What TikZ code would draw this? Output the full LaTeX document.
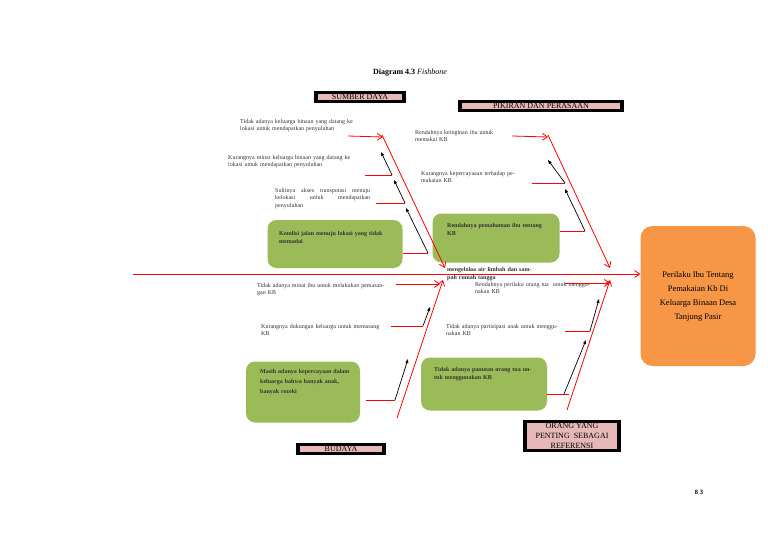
\documentclass[tikz,border=0pt]{standalone}
\usepackage{fontspec}
\setmainfont{Liberation Serif}
\usetikzlibrary{arrows.meta}
\definecolor{gr}{HTML}{9BBB59}
\definecolor{pk}{HTML}{E6B9B8}
\definecolor{org}{HTML}{F79646}
\begin{document}
\begin{tikzpicture}[x=1pt,y=-1pt,
 t/.style={font=\fontsize{6}{7.5}\selectfont,align=left,inner sep=0,anchor=north west,text=black!80},
 tb/.style={t,font=\fontsize{6}{8}\bfseries\selectfont},
 gbox/.style={fill=gr,rounded corners=9pt,draw=none},
 rl/.style={red,line width=0.8pt},
 ra/.style={rl,-{Straight Barb[length=5pt,width=7pt]}},
 ba/.style={black,line width=0.7pt,-{Triangle[length=4pt,width=3pt]}},
 cat/.style={draw=black,line width=3.5pt,fill=pk,font=\fontsize{8}{9.5}\selectfont,align=center,inner sep=2pt,
   drop shadow={shadow xshift=1.5pt,shadow yshift=-1.5pt,fill=black!30}}]
\useasboundingbox (0,0) rectangle (768,543);
\node (title) at (410,73) {\fontsize{8}{9}\selectfont\bfseries Diagram 4.3 \mdseries\itshape Fishbone};
% category boxes
\node[draw=black,line width=3.5pt,fill=pk,font=\fontsize{8}{9.5}\selectfont,inner sep=2pt,minimum width=88pt] (sd) at (360,97) {SUMBER DAYA};
\node[draw=black,line width=3.5pt,fill=pk,font=\fontsize{8}{9.5}\selectfont,inner sep=2pt,minimum width=162pt] (pp) at (541,106) {PIKIRAN DAN PERASAAN};
\node[draw=black,line width=3.5pt,fill=pk,font=\fontsize{8}{9.5}\selectfont,inner sep=2pt,minimum width=86pt] (bd) at (341,449) {BUDAYA};
\node[draw=black,line width=3.5pt,fill=pk,font=\fontsize{8}{10}\selectfont,align=center,inner sep=2pt,minimum width=94pt] (or) at (572,436) {ORANG YANG\\PENTING \ SEBAGAI\\REFERENSI};
% effect
\node[fill=org,rounded corners=12pt,minimum width=115pt,minimum height=140pt,align=center,font=\fontsize{8.5}{14}\selectfont] (eff) at (698,296) {Perilaku Ibu Tentang\\Pemakaian Kb Di\\Keluarga Binaan Desa\\Tanjung Pasir};
% spine
\coordinate (s0) at (133,274);
\draw[ra] (s0) -- (eff.west |- 0,274);
% green boxes
\node[gbox,minimum width=135pt,minimum height=48pt] (g1) at (335,244) {};
\node[tb,text width=112pt] (g1t) at (279,231) {Kondisi jalan menuju lokasi yang tidak memadai};
\node[gbox,minimum width=127pt,minimum height=49pt] (g2) at (496,238) {};
\node[tb,text width=100pt] (g2t) at (447,223) {Rendahnya pemahaman ibu tentang KB};
\node[gbox,minimum width=114pt,minimum height=61pt] (g3) at (303,392) {};
\node[tb,text width=90pt,font=\fontsize{6}{10}\bfseries\selectfont] (g3t) at (260,369) {Masih adanya kepercayaan dalam keluarga bahwa banyak anak, banyak rezeki};
\node[gbox,minimum width=126pt,minimum height=53pt] (g4) at (484,384) {};
\node[tb,text width=100pt] (g4t) at (434,367) {Tidak adanya panutan orang tua untuk menggunakan KB};
% bones
\coordinate (b1s) at (382,135); \coordinate (b1e) at (445,268);
\coordinate (b2s) at (548,135); \coordinate (b2e) at (610,268);
\coordinate (b3s) at (397,418); \coordinate (b3e) at (443,280);
\coordinate (b4s) at (567,410); \coordinate (b4e) at (610,280);
\draw[ra] (b1s) -- (b1e);
\draw[ra] (b2s) -- (b2e);
\draw[ra] (b3s) -- (b3e);
\draw[ra] (b4s) -- (b4e);
% sumber daya causes
\node[t,text width=120pt] (c11) at (240,119) {Tidak adanya keluarga binaan yang datang ke lokasi untuk mendapatkan penyuluhan};
\coordinate (h11) at (348,136); \coordinate (e11) at (383,137);
\draw[ra] (h11) -- (e11);
\node[t,text width=125pt] (c12) at (228,155) {Kurangnya minat keluarga binaan yang datang ke lokasi untuk mendapatkan penyuluhan};
\coordinate (h12) at (365,175); \coordinate (k12) at (392,175); \coordinate (a12) at (381,152);
\draw[rl] (h12) -- (k12); \draw[ba] (k12) -- (a12);
\node[t,text width=95pt,align=justify] (c13) at (275,188) {Sulitnya akses transpotasi menuju kelokasi untuk mendapatkan \ penyuluhan};
\coordinate (h13) at (376,203); \coordinate (k13) at (405,203); \coordinate (a13) at (394,180);
\draw[rl] (h13) -- (k13); \draw[ba] (k13) -- (a13);
\coordinate (k14) at (428,253); \coordinate (a14) at (406,208);
\draw[rl] (g1.east |- k14) -- (k14); \draw[ba] (k14) -- (a14);
% pikiran causes
\node[t,text width=100pt] (c21) at (415,130) {Rendahnya keinginan ibu untuk memakai KB};
\coordinate (h21) at (512,136); \coordinate (e21) at (548,137);
\draw[ra] (h21) -- (e21);
\node[t,text width=100pt] (c22) at (421,171) {Kurangnya kepercayaaan terhadap pemakaian KB};
\coordinate (h22) at (532,183); \coordinate (k22) at (565,183); \coordinate (a22) at (548,160);
\draw[rl] (h22) -- (k22); \draw[ba] (k22) -- (a22);
\coordinate (k23) at (585,231); \coordinate (a23) at (565,189);
\draw[rl] (g2.east |- k23) -- (k23); \draw[ba] (k23) -- (a23);
% budaya causes
\node[t,text width=130pt] (c31) at (257,283) {Tidak adanya minat ibu untuk melakukan pemasangan KB};
\coordinate (h31) at (396,284); \coordinate (e31) at (440,284);
\draw[ra] (h31) -- (e31);
\node[t,text width=120pt] (c32) at (261,324) {Kurangnya dukungan keluarga untuk memasang KB};
\coordinate (h32) at (391,326); \coordinate (k32) at (423,326); \coordinate (a32) at (430,307);
\draw[rl] (h32) -- (k32); \draw[ba] (k32) -- (a32);
\coordinate (k33) at (395,400); \coordinate (a33) at (408,359);
\draw[rl] (366,400) -- (k33); \draw[ba] (k33) -- (a33);
% orang causes
\node[tb,text width=90pt] (mid) at (447,267) {mengelolaa air limbah dan sampah rumah tangga};
\node[t,text width=115pt] (c41) at (475,282) {Rendahnya perilaku orang tua \ untuk menggunakan KB};
\coordinate (h41) at (565,283); \coordinate (e41) at (610,283);
\draw[ra] (h41) -- (e41);
\node[t,text width=115pt] (c42) at (446,324) {Tidak adanya partisipasi anak untuk menggunakan KB};
\coordinate (h42) at (565,331); \coordinate (k42) at (590,331); \coordinate (a42) at (599,299);
\draw[rl] (h42) -- (k42); \draw[ba] (k42) -- (a42);
\coordinate (k43) at (569,394); \coordinate (a43) at (586,340);
\draw[rl] (g4.east |- k43) -- (k43); \draw[ba] (564,394) -- (a43);
\node (pg) at (699,492) {\fontsize{6.5}{8}\selectfont\bfseries 8 3};
\end{tikzpicture}
\end{document}
